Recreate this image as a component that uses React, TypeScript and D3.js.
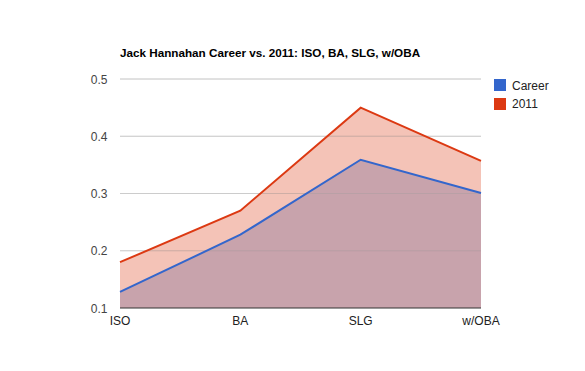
import React from "react";
import * as d3 from "d3";

const categories = ["ISO", "BA", "SLG", "w/OBA"];
const career = [0.128, 0.228, 0.359, 0.301];
const season2011 = [0.18, 0.27, 0.45, 0.357];
const yTicks = [0.1, 0.2, 0.3, 0.4, 0.5];
const seriesNames = ["Career", "2011"];
const colors = ["#3366cc", "#dc3912"];

export default function App() {
  const W = 585, H = 371;
  const x = d3.scalePoint<string>().domain(categories).range([120, 481]);
  const y = d3.scaleLinear().domain([0.1, 0.5]).range([308, 79]);
  const area = d3
    .area<number>()
    .x((_, i) => x(categories[i]) as number)
    .y0(y(0.1))
    .y1((d) => y(d));
  const line = d3
    .line<number>()
    .x((_, i) => x(categories[i]) as number)
    .y((d) => y(d));
  const font = "Arial, 'Liberation Sans', sans-serif";
  return (
    <svg
      width={W}
      height={H}
      style={{ position: "absolute", left: 0, top: 0 }}
      fontFamily={font}
    >
      <rect width={W} height={H} fill="#fff" />
      <text x={120} y={57} fontSize={11.7} fontWeight="bold" fill="#000">
        Jack Hannahan Career vs. 2011: ISO, BA, SLG, w/OBA
      </text>
      {yTicks.map((t) => (
        <g key={t}>
          {t !== 0.1 && (
            <line x1={120} x2={481} y1={y(t)} y2={y(t)} stroke="#cccccc" strokeWidth={1} />
          )}
          <text x={107.5} y={y(t) + 4.5} fontSize={12} textAnchor="end" fill="#444">
            {t.toFixed(1)}
          </text>
        </g>
      ))}
      <path d={area(career) || ""} fill={colors[0]} fillOpacity={0.3} />
      <path d={area(season2011) || ""} fill={colors[1]} fillOpacity={0.3} />
      {yTicks
        .filter((t) => t !== 0.1)
        .map((t) => (
          <line key={"g" + t} x1={120} x2={481} y1={y(t)} y2={y(t)} stroke="#cccccc" strokeOpacity={0.35} />
        ))}
      <line x1={120} x2={481} y1={y(0.1)} y2={y(0.1)} stroke="#333" strokeWidth={1} />
      <path d={line(career) || ""} fill="none" stroke={colors[0]} strokeWidth={2} />
      <path d={line(season2011) || ""} fill="none" stroke={colors[1]} strokeWidth={2} />
      {categories.map((c) => (
        <text key={c} x={x(c) as number} y={324.5} fontSize={12} textAnchor="middle" fill="#222">
          {c}
        </text>
      ))}
      {seriesNames.map((s, i) => (
        <g key={s}>
          <rect x={494} y={79 + i * 19} width={12} height={12} fill={colors[i]} />
          <text x={512} y={89.5 + i * 18.5} fontSize={12} fill="#222">
            {s}
          </text>
        </g>
      ))}
    </svg>
  );
}
